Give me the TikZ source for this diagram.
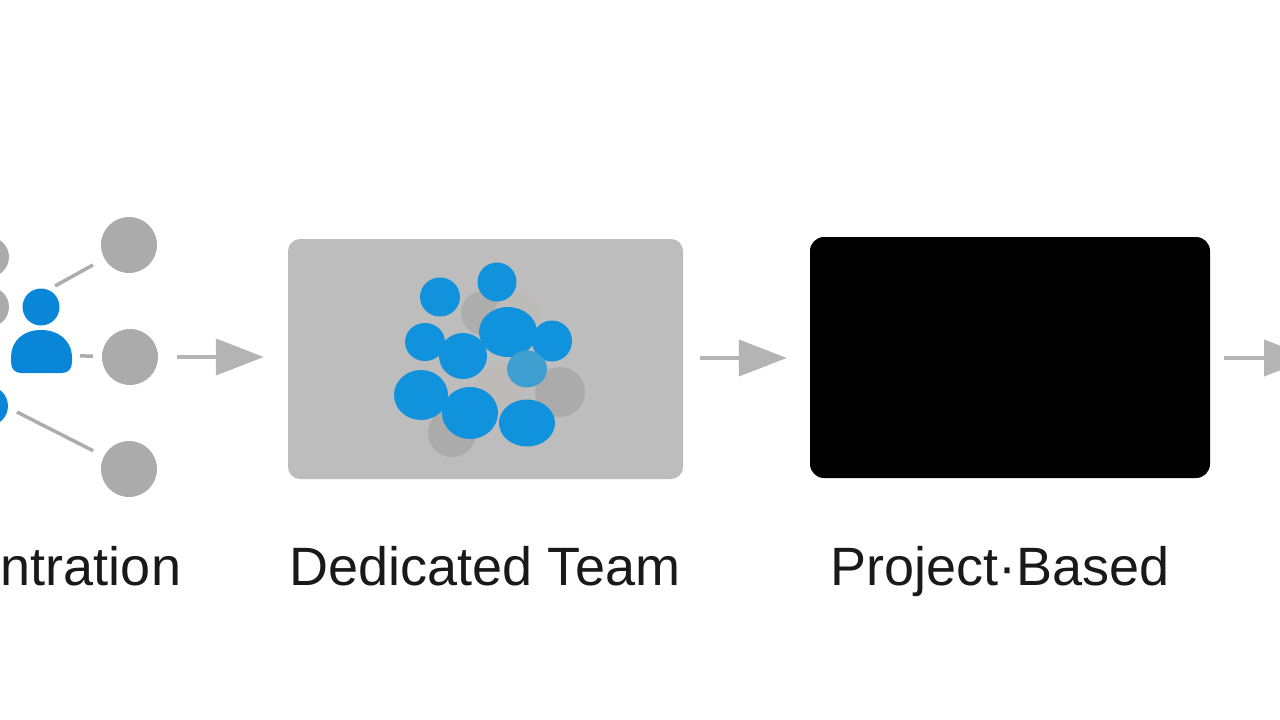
\documentclass[tikz,border=0pt]{standalone}
\usepackage{fontspec}
\setmainfont{Liberation Sans}
\usetikzlibrary{positioning,arrows.meta,shapes.geometric}
\definecolor{userblue}{HTML}{0A86D8}
\definecolor{blobblue}{HTML}{1192DD}
\definecolor{softblue}{HTML}{3F9FD0}
\definecolor{satgray}{HTML}{ABABAB}
\definecolor{linegray}{HTML}{ADADAD}
\definecolor{boxgray}{HTML}{BDBDBD}
\definecolor{flowgray}{HTML}{B4B4B4}
\begin{document}
\begin{tikzpicture}[x=1pt,y=-1pt,
    satnode/.style={circle, fill=satgray, inner sep=0pt, minimum size=56pt},
    blob/.style={ellipse, inner sep=0pt},
    panel/.style={rectangle, inner sep=0pt, minimum width=#1},
    caption/.style={anchor=base, text=black!90, inner sep=0pt, font=\fontsize{54}{60}\selectfont},
    link/.style={draw=linegray, line width=3.5pt},
    flow/.style={draw=flowgray, line width=4pt, -{Triangle[length=48pt,width=36pt]}},]
    \path[use as bounding box, clip] (0,0) rectangle (1280,720);

    %Nodes
    \node[satnode] (sat1) at (129,245) {};
    \node[satnode] (sat2) at (130,357) {};
    \node[satnode] (sat3) at (129,469) {};
    \node[satnode, minimum size=40pt] (edge1) at (-11,257) {};
    \node[satnode, minimum size=40pt] (edge2) at (-11,307) {};
    \node[circle, fill=userblue, inner sep=0pt, minimum size=40pt] (edge3) at (-12,406) {};

    \node[circle, fill=userblue, inner sep=0pt, minimum size=37pt] (head) at (41,307) {};
    \fill[userblue] (11,358) .. controls (11,340) and (24,330) .. (41,330) .. controls (58,330) and (72,340) .. (72,358)
      -- (72,362) .. controls (72,369) and (68,373) .. (62,373) -- (21,373) .. controls (15,373) and (11,369) .. (11,362) -- cycle;
    \coordinate (body) at (41,355);
    \coordinate (upper) at (55,286);
    \coordinate (lower) at (17,412);

    \node[panel=395pt, minimum height=240pt, fill=boxgray, rounded corners=12pt] (team) at (485.5,359) {};
    \node[panel=400pt, minimum height=241pt, fill=black, rounded corners=14pt] (project) at (1010,357.5) {};
    \coordinate (next) at (1312,358);

    %Blobs
    \foreach \name/\x/\y/\w/\h/\c in {
        g1/483/313/44/44/linegray, g2/517/313/44/44/boxgray!96!brown, g3/500/390/50/50/boxgray!95!brown,
        g4/560/392/50/50/satgray, g5/452/433/48/48/satgray,
        b1/440/297/40/39/blobblue, b2/497/282/39/39/blobblue, b4/552/341/40/41/blobblue,
        b3/508/332/58/50/blobblue, b5/425/342/40/38/blobblue, b6/463/356/48/46/blobblue,
        b7/421/395/54/50/blobblue, b8/470/413/56/52/blobblue, b9/527/423/56/47/blobblue,
        b10/527/369/40/37/softblue}
      \node[blob, fill=\c, minimum width=\w pt, minimum height=\h pt] (\name) at (\x,\y) {};

    \node[caption] (concentration) at (91,585) {ntration};
    \node[caption] (teamlabel) at (485,585) {Dedicated Team};
    \node[caption] (projectlabel) at (1000,585) {Project·Based};

    %Lines
    \draw[link, shorten >=13pt] (upper) -- (sat1);
    \draw[link, shorten <=39pt, shorten >=9pt] (body) -- (sat2);
    \draw[link, shorten >=12pt] (lower) -- (sat3);
    \draw[flow, shorten <=19pt, shorten >=24pt] (sat2.east) -- (sat2.east -| team.west);
    \draw[flow, shorten <=17pt, shorten >=23pt] (team.east |- next) -- (project.west |- next);
    \draw[flow, shorten <=14pt] (project.east |- next) -- (next);
  \end{tikzpicture}
\end{document}
